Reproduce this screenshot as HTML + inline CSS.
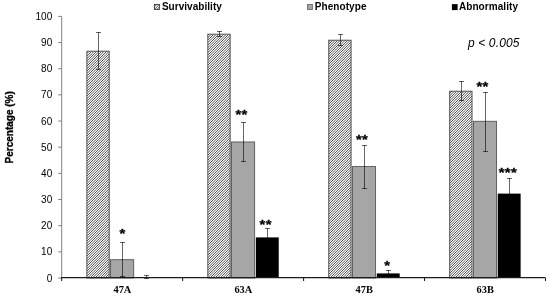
<!DOCTYPE html>
<html><head><meta charset="utf-8"><title>chart</title>
<style>
html,body{margin:0;padding:0;background:#fff;}
body{width:550px;height:297px;overflow:hidden;}
svg{display:block;}
text{font-family:"Liberation Sans",sans-serif;fill:#000;}
.ser{font-family:"Liberation Serif",serif;font-weight:bold;}
.b{font-weight:bold;}
.i{font-style:italic;}
</style></head><body>
<svg width="550" height="297" viewBox="0 0 550 297">
<rect width="550" height="297" fill="#fff"/>

<clipPath id="c0"><rect x="86.88" y="51.19" width="22.30" height="226.81"/></clipPath>
<rect x="86.88" y="51.19" width="22.30" height="226.81" fill="#fff"/>
<path clip-path="url(#c0)" d="M-142.50,278.00L84.31,51.19M-140.00,278.00L86.81,51.19M-137.50,278.00L89.31,51.19M-135.00,278.00L91.81,51.19M-132.50,278.00L94.31,51.19M-130.00,278.00L96.81,51.19M-127.50,278.00L99.31,51.19M-125.00,278.00L101.81,51.19M-122.50,278.00L104.31,51.19M-120.00,278.00L106.81,51.19M-117.50,278.00L109.31,51.19M-115.00,278.00L111.81,51.19M-112.50,278.00L114.31,51.19M-110.00,278.00L116.81,51.19M-107.50,278.00L119.31,51.19M-105.00,278.00L121.81,51.19M-102.50,278.00L124.31,51.19M-100.00,278.00L126.81,51.19M-97.50,278.00L129.31,51.19M-95.00,278.00L131.81,51.19M-92.50,278.00L134.31,51.19M-90.00,278.00L136.81,51.19M-87.50,278.00L139.31,51.19M-85.00,278.00L141.81,51.19M-82.50,278.00L144.31,51.19M-80.00,278.00L146.81,51.19M-77.50,278.00L149.31,51.19M-75.00,278.00L151.81,51.19M-72.50,278.00L154.31,51.19M-70.00,278.00L156.81,51.19M-67.50,278.00L159.31,51.19M-65.00,278.00L161.81,51.19M-62.50,278.00L164.31,51.19M-60.00,278.00L166.81,51.19M-57.50,278.00L169.31,51.19M-55.00,278.00L171.81,51.19M-52.50,278.00L174.31,51.19M-50.00,278.00L176.81,51.19M-47.50,278.00L179.31,51.19M-45.00,278.00L181.81,51.19M-42.50,278.00L184.31,51.19M-40.00,278.00L186.81,51.19M-37.50,278.00L189.31,51.19M-35.00,278.00L191.81,51.19M-32.50,278.00L194.31,51.19M-30.00,278.00L196.81,51.19M-27.50,278.00L199.31,51.19M-25.00,278.00L201.81,51.19M-22.50,278.00L204.31,51.19M-20.00,278.00L206.81,51.19M-17.50,278.00L209.31,51.19M-15.00,278.00L211.81,51.19M-12.50,278.00L214.31,51.19M-10.00,278.00L216.81,51.19M-7.50,278.00L219.31,51.19M-5.00,278.00L221.81,51.19M-2.50,278.00L224.31,51.19M0.00,278.00L226.81,51.19M2.50,278.00L229.31,51.19M5.00,278.00L231.81,51.19M7.50,278.00L234.31,51.19M10.00,278.00L236.81,51.19M12.50,278.00L239.31,51.19M15.00,278.00L241.81,51.19M17.50,278.00L244.31,51.19M20.00,278.00L246.81,51.19M22.50,278.00L249.31,51.19M25.00,278.00L251.81,51.19M27.50,278.00L254.31,51.19M30.00,278.00L256.81,51.19M32.50,278.00L259.31,51.19M35.00,278.00L261.81,51.19M37.50,278.00L264.31,51.19M40.00,278.00L266.81,51.19M42.50,278.00L269.31,51.19M45.00,278.00L271.81,51.19M47.50,278.00L274.31,51.19M50.00,278.00L276.81,51.19M52.50,278.00L279.31,51.19M55.00,278.00L281.81,51.19M57.50,278.00L284.31,51.19M60.00,278.00L286.81,51.19M62.50,278.00L289.31,51.19M65.00,278.00L291.81,51.19M67.50,278.00L294.31,51.19M70.00,278.00L296.81,51.19M72.50,278.00L299.31,51.19M75.00,278.00L301.81,51.19M77.50,278.00L304.31,51.19M80.00,278.00L306.81,51.19M82.50,278.00L309.31,51.19M85.00,278.00L311.81,51.19M87.50,278.00L314.31,51.19M90.00,278.00L316.81,51.19M92.50,278.00L319.31,51.19M95.00,278.00L321.81,51.19M97.50,278.00L324.31,51.19M100.00,278.00L326.81,51.19M102.50,278.00L329.31,51.19M105.00,278.00L331.81,51.19M107.50,278.00L334.31,51.19M110.00,278.00L336.81,51.19" stroke="#000" stroke-width="0.68" fill="none"/>
<rect x="86.88" y="51.19" width="22.30" height="226.81" fill="none" stroke="#404040" stroke-width="0.9"/>
<path d="M98.50,32.00 V70.00 M96.00,32.50 H101.00 M96.00,69.50 H101.00" stroke="#000" stroke-opacity="0.6" stroke-width="1" fill="none"/>
<rect x="110.58" y="259.69" width="23.10" height="18.31" fill="#a6a6a6" stroke="#555" stroke-width="0.9"/>
<path d="M122.50,242.00 V277.00 M120.00,242.50 H125.00 M120.00,276.50 H125.00" stroke="#000" stroke-opacity="0.6" stroke-width="1" fill="none"/>
<text class="b" transform="translate(122.60,238.33) scale(1.06,0.93)" font-size="14" text-anchor="middle" letter-spacing="0.3" stroke="#000" stroke-width="0.3" stroke-linejoin="round">*</text>
<path d="M146.50,275.00 V279.00 M144.00,275.50 H149.00 M144.00,278.50 H149.00" stroke="#000" stroke-opacity="0.6" stroke-width="1" fill="none"/>
<clipPath id="c1"><rect x="207.83" y="34.19" width="22.30" height="243.81"/></clipPath>
<rect x="207.83" y="34.19" width="22.30" height="243.81" fill="#fff"/>
<path clip-path="url(#c1)" d="M-40.00,278.00L203.81,34.19M-37.50,278.00L206.31,34.19M-35.00,278.00L208.81,34.19M-32.50,278.00L211.31,34.19M-30.00,278.00L213.81,34.19M-27.50,278.00L216.31,34.19M-25.00,278.00L218.81,34.19M-22.50,278.00L221.31,34.19M-20.00,278.00L223.81,34.19M-17.50,278.00L226.31,34.19M-15.00,278.00L228.81,34.19M-12.50,278.00L231.31,34.19M-10.00,278.00L233.81,34.19M-7.50,278.00L236.31,34.19M-5.00,278.00L238.81,34.19M-2.50,278.00L241.31,34.19M0.00,278.00L243.81,34.19M2.50,278.00L246.31,34.19M5.00,278.00L248.81,34.19M7.50,278.00L251.31,34.19M10.00,278.00L253.81,34.19M12.50,278.00L256.31,34.19M15.00,278.00L258.81,34.19M17.50,278.00L261.31,34.19M20.00,278.00L263.81,34.19M22.50,278.00L266.31,34.19M25.00,278.00L268.81,34.19M27.50,278.00L271.31,34.19M30.00,278.00L273.81,34.19M32.50,278.00L276.31,34.19M35.00,278.00L278.81,34.19M37.50,278.00L281.31,34.19M40.00,278.00L283.81,34.19M42.50,278.00L286.31,34.19M45.00,278.00L288.81,34.19M47.50,278.00L291.31,34.19M50.00,278.00L293.81,34.19M52.50,278.00L296.31,34.19M55.00,278.00L298.81,34.19M57.50,278.00L301.31,34.19M60.00,278.00L303.81,34.19M62.50,278.00L306.31,34.19M65.00,278.00L308.81,34.19M67.50,278.00L311.31,34.19M70.00,278.00L313.81,34.19M72.50,278.00L316.31,34.19M75.00,278.00L318.81,34.19M77.50,278.00L321.31,34.19M80.00,278.00L323.81,34.19M82.50,278.00L326.31,34.19M85.00,278.00L328.81,34.19M87.50,278.00L331.31,34.19M90.00,278.00L333.81,34.19M92.50,278.00L336.31,34.19M95.00,278.00L338.81,34.19M97.50,278.00L341.31,34.19M100.00,278.00L343.81,34.19M102.50,278.00L346.31,34.19M105.00,278.00L348.81,34.19M107.50,278.00L351.31,34.19M110.00,278.00L353.81,34.19M112.50,278.00L356.31,34.19M115.00,278.00L358.81,34.19M117.50,278.00L361.31,34.19M120.00,278.00L363.81,34.19M122.50,278.00L366.31,34.19M125.00,278.00L368.81,34.19M127.50,278.00L371.31,34.19M130.00,278.00L373.81,34.19M132.50,278.00L376.31,34.19M135.00,278.00L378.81,34.19M137.50,278.00L381.31,34.19M140.00,278.00L383.81,34.19M142.50,278.00L386.31,34.19M145.00,278.00L388.81,34.19M147.50,278.00L391.31,34.19M150.00,278.00L393.81,34.19M152.50,278.00L396.31,34.19M155.00,278.00L398.81,34.19M157.50,278.00L401.31,34.19M160.00,278.00L403.81,34.19M162.50,278.00L406.31,34.19M165.00,278.00L408.81,34.19M167.50,278.00L411.31,34.19M170.00,278.00L413.81,34.19M172.50,278.00L416.31,34.19M175.00,278.00L418.81,34.19M177.50,278.00L421.31,34.19M180.00,278.00L423.81,34.19M182.50,278.00L426.31,34.19M185.00,278.00L428.81,34.19M187.50,278.00L431.31,34.19M190.00,278.00L433.81,34.19M192.50,278.00L436.31,34.19M195.00,278.00L438.81,34.19M197.50,278.00L441.31,34.19M200.00,278.00L443.81,34.19M202.50,278.00L446.31,34.19M205.00,278.00L448.81,34.19M207.50,278.00L451.31,34.19M210.00,278.00L453.81,34.19M212.50,278.00L456.31,34.19M215.00,278.00L458.81,34.19M217.50,278.00L461.31,34.19M220.00,278.00L463.81,34.19M222.50,278.00L466.31,34.19M225.00,278.00L468.81,34.19M227.50,278.00L471.31,34.19M230.00,278.00L473.81,34.19M232.50,278.00L476.31,34.19" stroke="#000" stroke-width="0.68" fill="none"/>
<rect x="207.83" y="34.19" width="22.30" height="243.81" fill="none" stroke="#404040" stroke-width="0.9"/>
<path d="M219.50,31.00 V37.00 M217.00,31.50 H222.00 M217.00,36.50 H222.00" stroke="#000" stroke-opacity="0.6" stroke-width="1" fill="none"/>
<rect x="231.53" y="141.97" width="23.10" height="136.03" fill="#a6a6a6" stroke="#555" stroke-width="0.9"/>
<path d="M243.50,122.00 V162.00 M241.00,122.50 H246.00 M241.00,161.50 H246.00" stroke="#000" stroke-opacity="0.6" stroke-width="1" fill="none"/>
<text class="b" transform="translate(241.60,119.43) scale(1.06,0.93)" font-size="14" text-anchor="middle" letter-spacing="0.3" stroke="#000" stroke-width="0.3" stroke-linejoin="round">**</text>
<path d="M267.50,228.00 V247.00 M265.00,228.50 H270.00 M265.00,246.50 H270.00" stroke="#000" stroke-opacity="0.6" stroke-width="1" fill="none"/>
<rect x="255.83" y="237.41" width="22.90" height="40.59" fill="#000"/>
<text class="b" transform="translate(265.65,228.78) scale(1.06,0.93)" font-size="14" text-anchor="middle" letter-spacing="0.3" stroke="#000" stroke-width="0.3" stroke-linejoin="round">**</text>
<clipPath id="c2"><rect x="328.77" y="40.21" width="22.30" height="237.79"/></clipPath>
<rect x="328.77" y="40.21" width="22.30" height="237.79" fill="#fff"/>
<path clip-path="url(#c2)" d="M87.50,278.00L325.29,40.21M90.00,278.00L327.79,40.21M92.50,278.00L330.29,40.21M95.00,278.00L332.79,40.21M97.50,278.00L335.29,40.21M100.00,278.00L337.79,40.21M102.50,278.00L340.29,40.21M105.00,278.00L342.79,40.21M107.50,278.00L345.29,40.21M110.00,278.00L347.79,40.21M112.50,278.00L350.29,40.21M115.00,278.00L352.79,40.21M117.50,278.00L355.29,40.21M120.00,278.00L357.79,40.21M122.50,278.00L360.29,40.21M125.00,278.00L362.79,40.21M127.50,278.00L365.29,40.21M130.00,278.00L367.79,40.21M132.50,278.00L370.29,40.21M135.00,278.00L372.79,40.21M137.50,278.00L375.29,40.21M140.00,278.00L377.79,40.21M142.50,278.00L380.29,40.21M145.00,278.00L382.79,40.21M147.50,278.00L385.29,40.21M150.00,278.00L387.79,40.21M152.50,278.00L390.29,40.21M155.00,278.00L392.79,40.21M157.50,278.00L395.29,40.21M160.00,278.00L397.79,40.21M162.50,278.00L400.29,40.21M165.00,278.00L402.79,40.21M167.50,278.00L405.29,40.21M170.00,278.00L407.79,40.21M172.50,278.00L410.29,40.21M175.00,278.00L412.79,40.21M177.50,278.00L415.29,40.21M180.00,278.00L417.79,40.21M182.50,278.00L420.29,40.21M185.00,278.00L422.79,40.21M187.50,278.00L425.29,40.21M190.00,278.00L427.79,40.21M192.50,278.00L430.29,40.21M195.00,278.00L432.79,40.21M197.50,278.00L435.29,40.21M200.00,278.00L437.79,40.21M202.50,278.00L440.29,40.21M205.00,278.00L442.79,40.21M207.50,278.00L445.29,40.21M210.00,278.00L447.79,40.21M212.50,278.00L450.29,40.21M215.00,278.00L452.79,40.21M217.50,278.00L455.29,40.21M220.00,278.00L457.79,40.21M222.50,278.00L460.29,40.21M225.00,278.00L462.79,40.21M227.50,278.00L465.29,40.21M230.00,278.00L467.79,40.21M232.50,278.00L470.29,40.21M235.00,278.00L472.79,40.21M237.50,278.00L475.29,40.21M240.00,278.00L477.79,40.21M242.50,278.00L480.29,40.21M245.00,278.00L482.79,40.21M247.50,278.00L485.29,40.21M250.00,278.00L487.79,40.21M252.50,278.00L490.29,40.21M255.00,278.00L492.79,40.21M257.50,278.00L495.29,40.21M260.00,278.00L497.79,40.21M262.50,278.00L500.29,40.21M265.00,278.00L502.79,40.21M267.50,278.00L505.29,40.21M270.00,278.00L507.79,40.21M272.50,278.00L510.29,40.21M275.00,278.00L512.79,40.21M277.50,278.00L515.29,40.21M280.00,278.00L517.79,40.21M282.50,278.00L520.29,40.21M285.00,278.00L522.79,40.21M287.50,278.00L525.29,40.21M290.00,278.00L527.79,40.21M292.50,278.00L530.29,40.21M295.00,278.00L532.79,40.21M297.50,278.00L535.29,40.21M300.00,278.00L537.79,40.21M302.50,278.00L540.29,40.21M305.00,278.00L542.79,40.21M307.50,278.00L545.29,40.21M310.00,278.00L547.79,40.21M312.50,278.00L550.29,40.21M315.00,278.00L552.79,40.21M317.50,278.00L555.29,40.21M320.00,278.00L557.79,40.21M322.50,278.00L560.29,40.21M325.00,278.00L562.79,40.21M327.50,278.00L565.29,40.21M330.00,278.00L567.79,40.21M332.50,278.00L570.29,40.21M335.00,278.00L572.79,40.21M337.50,278.00L575.29,40.21M340.00,278.00L577.79,40.21M342.50,278.00L580.29,40.21M345.00,278.00L582.79,40.21M347.50,278.00L585.29,40.21M350.00,278.00L587.79,40.21M352.50,278.00L590.29,40.21" stroke="#000" stroke-width="0.68" fill="none"/>
<rect x="328.77" y="40.21" width="22.30" height="237.79" fill="none" stroke="#404040" stroke-width="0.9"/>
<path d="M340.50,34.00 V46.00 M338.00,34.50 H343.00 M338.00,45.50 H343.00" stroke="#000" stroke-opacity="0.6" stroke-width="1" fill="none"/>
<rect x="352.48" y="166.56" width="23.10" height="111.44" fill="#a6a6a6" stroke="#555" stroke-width="0.9"/>
<path d="M364.50,145.00 V189.00 M362.00,145.50 H367.00 M362.00,188.50 H367.00" stroke="#000" stroke-opacity="0.6" stroke-width="1" fill="none"/>
<text class="b" transform="translate(362.05,143.78) scale(1.06,0.93)" font-size="14" text-anchor="middle" letter-spacing="0.3" stroke="#000" stroke-width="0.3" stroke-linejoin="round">**</text>
<path d="M388.50,270.00 V277.00 M386.00,270.50 H391.00 M386.00,276.50 H391.00" stroke="#000" stroke-opacity="0.6" stroke-width="1" fill="none"/>
<rect x="376.78" y="273.41" width="22.90" height="4.59" fill="#000"/>
<text class="b" transform="translate(387.40,269.78) scale(1.06,0.93)" font-size="14" text-anchor="middle" letter-spacing="0.3" stroke="#000" stroke-width="0.3" stroke-linejoin="round">*</text>
<clipPath id="c3"><rect x="449.72" y="91.22" width="22.30" height="186.78"/></clipPath>
<rect x="449.72" y="91.22" width="22.30" height="186.78" fill="#fff"/>
<path clip-path="url(#c3)" d="M260.00,278.00L446.78,91.22M262.50,278.00L449.28,91.22M265.00,278.00L451.78,91.22M267.50,278.00L454.28,91.22M270.00,278.00L456.78,91.22M272.50,278.00L459.28,91.22M275.00,278.00L461.78,91.22M277.50,278.00L464.28,91.22M280.00,278.00L466.78,91.22M282.50,278.00L469.28,91.22M285.00,278.00L471.78,91.22M287.50,278.00L474.28,91.22M290.00,278.00L476.78,91.22M292.50,278.00L479.28,91.22M295.00,278.00L481.78,91.22M297.50,278.00L484.28,91.22M300.00,278.00L486.78,91.22M302.50,278.00L489.28,91.22M305.00,278.00L491.78,91.22M307.50,278.00L494.28,91.22M310.00,278.00L496.78,91.22M312.50,278.00L499.28,91.22M315.00,278.00L501.78,91.22M317.50,278.00L504.28,91.22M320.00,278.00L506.78,91.22M322.50,278.00L509.28,91.22M325.00,278.00L511.78,91.22M327.50,278.00L514.28,91.22M330.00,278.00L516.78,91.22M332.50,278.00L519.28,91.22M335.00,278.00L521.78,91.22M337.50,278.00L524.28,91.22M340.00,278.00L526.78,91.22M342.50,278.00L529.28,91.22M345.00,278.00L531.78,91.22M347.50,278.00L534.28,91.22M350.00,278.00L536.78,91.22M352.50,278.00L539.28,91.22M355.00,278.00L541.78,91.22M357.50,278.00L544.28,91.22M360.00,278.00L546.78,91.22M362.50,278.00L549.28,91.22M365.00,278.00L551.78,91.22M367.50,278.00L554.28,91.22M370.00,278.00L556.78,91.22M372.50,278.00L559.28,91.22M375.00,278.00L561.78,91.22M377.50,278.00L564.28,91.22M380.00,278.00L566.78,91.22M382.50,278.00L569.28,91.22M385.00,278.00L571.78,91.22M387.50,278.00L574.28,91.22M390.00,278.00L576.78,91.22M392.50,278.00L579.28,91.22M395.00,278.00L581.78,91.22M397.50,278.00L584.28,91.22M400.00,278.00L586.78,91.22M402.50,278.00L589.28,91.22M405.00,278.00L591.78,91.22M407.50,278.00L594.28,91.22M410.00,278.00L596.78,91.22M412.50,278.00L599.28,91.22M415.00,278.00L601.78,91.22M417.50,278.00L604.28,91.22M420.00,278.00L606.78,91.22M422.50,278.00L609.28,91.22M425.00,278.00L611.78,91.22M427.50,278.00L614.28,91.22M430.00,278.00L616.78,91.22M432.50,278.00L619.28,91.22M435.00,278.00L621.78,91.22M437.50,278.00L624.28,91.22M440.00,278.00L626.78,91.22M442.50,278.00L629.28,91.22M445.00,278.00L631.78,91.22M447.50,278.00L634.28,91.22M450.00,278.00L636.78,91.22M452.50,278.00L639.28,91.22M455.00,278.00L641.78,91.22M457.50,278.00L644.28,91.22M460.00,278.00L646.78,91.22M462.50,278.00L649.28,91.22M465.00,278.00L651.78,91.22M467.50,278.00L654.28,91.22M470.00,278.00L656.78,91.22M472.50,278.00L659.28,91.22" stroke="#000" stroke-width="0.68" fill="none"/>
<rect x="449.72" y="91.22" width="22.30" height="186.78" fill="none" stroke="#404040" stroke-width="0.9"/>
<path d="M461.50,81.00 V101.00 M459.00,81.50 H464.00 M459.00,100.50 H464.00" stroke="#000" stroke-opacity="0.6" stroke-width="1" fill="none"/>
<rect x="473.43" y="121.30" width="23.10" height="156.70" fill="#a6a6a6" stroke="#555" stroke-width="0.9"/>
<path d="M485.50,92.00 V152.00 M483.00,92.50 H488.00 M483.00,151.50 H488.00" stroke="#000" stroke-opacity="0.6" stroke-width="1" fill="none"/>
<text class="b" transform="translate(482.55,91.23) scale(1.06,0.93)" font-size="14" text-anchor="middle" letter-spacing="0.3" stroke="#000" stroke-width="0.3" stroke-linejoin="round">**</text>
<path d="M509.50,178.00 V210.00 M507.00,178.50 H512.00 M507.00,209.50 H512.00" stroke="#000" stroke-opacity="0.6" stroke-width="1" fill="none"/>
<rect x="497.73" y="193.60" width="22.90" height="84.40" fill="#000"/>
<text class="b" transform="translate(507.85,176.88) scale(1.06,0.93)" font-size="14" text-anchor="middle" letter-spacing="0.3" stroke="#000" stroke-width="0.3" stroke-linejoin="round">***</text>
<path d="M61.7,16.399999999999977 V278.0" stroke="#808080" stroke-width="1" fill="none"/>
<path d="M58.2,278.00 H61.7" stroke="#808080" stroke-width="1" fill="none"/>
<text transform="translate(52.20,281.50) scale(1.0,1.0)" font-size="10" text-anchor="end">0</text>
<path d="M58.2,251.84 H61.7" stroke="#808080" stroke-width="1" fill="none"/>
<text transform="translate(52.20,255.34) scale(1.0,1.0)" font-size="10" text-anchor="end">10</text>
<path d="M58.2,225.68 H61.7" stroke="#808080" stroke-width="1" fill="none"/>
<text transform="translate(52.20,229.18) scale(1.0,1.0)" font-size="10" text-anchor="end">20</text>
<path d="M58.2,199.52 H61.7" stroke="#808080" stroke-width="1" fill="none"/>
<text transform="translate(52.20,203.02) scale(1.0,1.0)" font-size="10" text-anchor="end">30</text>
<path d="M58.2,173.36 H61.7" stroke="#808080" stroke-width="1" fill="none"/>
<text transform="translate(52.20,176.86) scale(1.0,1.0)" font-size="10" text-anchor="end">40</text>
<path d="M58.2,147.20 H61.7" stroke="#808080" stroke-width="1" fill="none"/>
<text transform="translate(52.20,150.70) scale(1.0,1.0)" font-size="10" text-anchor="end">50</text>
<path d="M58.2,121.04 H61.7" stroke="#808080" stroke-width="1" fill="none"/>
<text transform="translate(52.20,124.54) scale(1.0,1.0)" font-size="10" text-anchor="end">60</text>
<path d="M58.2,94.88 H61.7" stroke="#808080" stroke-width="1" fill="none"/>
<text transform="translate(52.20,98.38) scale(1.0,1.0)" font-size="10" text-anchor="end">70</text>
<path d="M58.2,68.72 H61.7" stroke="#808080" stroke-width="1" fill="none"/>
<text transform="translate(52.20,72.22) scale(1.0,1.0)" font-size="10" text-anchor="end">80</text>
<path d="M58.2,42.56 H61.7" stroke="#808080" stroke-width="1" fill="none"/>
<text transform="translate(52.20,46.06) scale(1.0,1.0)" font-size="10" text-anchor="end">90</text>
<path d="M58.2,16.40 H61.7" stroke="#808080" stroke-width="1" fill="none"/>
<text transform="translate(52.20,19.90) scale(1.0,1.0)" font-size="10" text-anchor="end">100</text>
<path d="M61.2,277.6 H545.5" stroke="#1c1c1c" stroke-width="1.25" fill="none"/>
<path d="M61.70,278.0 V281.0" stroke="#111" stroke-width="1" fill="none"/>
<path d="M182.65,278.0 V281.0" stroke="#111" stroke-width="1" fill="none"/>
<path d="M303.60,278.0 V281.0" stroke="#111" stroke-width="1" fill="none"/>
<path d="M424.55,278.0 V281.0" stroke="#111" stroke-width="1" fill="none"/>
<path d="M545.50,278.0 V281.0" stroke="#111" stroke-width="1" fill="none"/>
<text class="ser" transform="translate(122.38,293.40) scale(1.04,1.0)" font-size="10" text-anchor="middle">47A</text>
<text class="ser" transform="translate(243.32,293.40) scale(1.04,1.0)" font-size="10" text-anchor="middle">63A</text>
<text class="ser" transform="translate(364.27,293.40) scale(1.04,1.0)" font-size="10" text-anchor="middle">47B</text>
<text class="ser" transform="translate(485.22,293.40) scale(1.04,1.0)" font-size="10" text-anchor="middle">63B</text>
<rect x="154.4" y="4.4" width="5.0" height="5.0" fill="#fff"/>
<path d="M154.6,9.2 L159.2,4.6 M154.6,6.7 L156.7,4.6 M157.1,9.2 L159.2,7.1" stroke="#3a3a3a" stroke-width="0.85" fill="none"/>
<rect x="154.4" y="4.4" width="5.0" height="5.0" fill="none" stroke="#333" stroke-width="0.9"/>
<text class="b" transform="translate(161.90,10.00) scale(1.0,1.0)" font-size="10" text-anchor="start" letter-spacing="0.04">Survivability</text>
<rect x="307.5" y="4.5" width="4.9" height="5.0" fill="#a6a6a6" stroke="#6a6a6a" stroke-width="0.9"/>
<text class="b" transform="translate(314.70,10.00) scale(1.0,1.0)" font-size="10" text-anchor="start" letter-spacing="0.08">Phenotype</text>
<rect x="451.9" y="4.1" width="5.7" height="6.0" fill="#000"/>
<text class="b" transform="translate(459.00,10.00) scale(1.0,1.0)" font-size="10" text-anchor="start" letter-spacing="0.06">Abnormality</text>
<text class="i" transform="translate(467.90,46.50) scale(1.0,1.0)" font-size="12" text-anchor="start" letter-spacing="0.15">p &lt; 0.005</text>
<text class="b" transform="translate(13.0,163.4) rotate(-90)" font-size="10" stroke="#000" stroke-width="0.3">Percentage (%)</text>
</svg></body></html>
